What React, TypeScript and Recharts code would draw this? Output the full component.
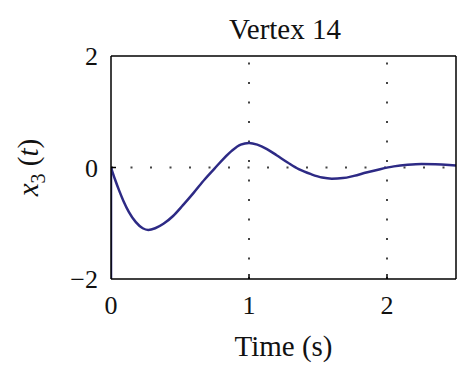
import { LineChart, Line, XAxis, YAxis, ReferenceLine } from "recharts";

const timeTicks = [0, 1, 2];
const valueTicks = [-2, 0, 2];

// initial jump at t = 0
const jump = [
  { t: 0, x3: -2 },
  { t: 0, x3: 0 },
];

const times = [
  0, 0.03, 0.06, 0.09, 0.13, 0.18, 0.23, 0.27, 0.32, 0.38, 0.45, 0.52, 0.6, 0.68, 0.75, 0.82, 0.88,
  0.94, 1.0, 1.06, 1.13, 1.2, 1.28, 1.36, 1.45, 1.53, 1.6, 1.68, 1.76, 1.85, 1.95, 2.05, 2.15, 2.25,
  2.35, 2.45, 2.5,
];
const values = [
  0, -0.22, -0.42, -0.6, -0.8, -0.98, -1.09, -1.12, -1.09, -1.01, -0.87, -0.68, -0.45, -0.21, -0.02,
  0.17, 0.31, 0.41, 0.44, 0.41, 0.33, 0.22, 0.09, -0.03, -0.12, -0.18, -0.2, -0.19, -0.15, -0.09,
  -0.03, 0.02, 0.05, 0.065, 0.06, 0.045, 0.035,
];

const curve = times.map((t, i) => ({ t, x3: values[i] }));

const FONT = "'Liberation Serif', 'DejaVu Serif', serif";
const LINE = "#2d2a85";

function fmt(v: number): string {
  return v < 0 ? `\u2212${Math.abs(v)}` : `${v}`;
}

function BottomTick(props: any) {
  const { x, y, payload } = props;
  const inner = payload.value !== 0;
  return (
    <g>
      {inner && <line x1={x} y1={y} x2={x} y2={y - 5} stroke="#000" strokeWidth={1.5} />}
      <text x={x} y={y + 35} textAnchor="middle" fontFamily={FONT} fontSize={26} fill="#111">
        {fmt(payload.value)}
      </text>
    </g>
  );
}

function TopTick(props: any) {
  const { x, y, payload } = props;
  if (payload.value === 0) return <g />;
  return <line x1={x} y1={y} x2={x} y2={y + 5} stroke="#000" strokeWidth={1.5} />;
}

function LeftTick(props: any) {
  const { x, y, payload } = props;
  const inner = payload.value === 0;
  return (
    <g>
      {inner && <line x1={x} y1={y} x2={x + 5} y2={y} stroke="#000" strokeWidth={1.5} />}
      <text x={x - 13} y={y + 9} textAnchor="end" fontFamily={FONT} fontSize={26} fill="#111">
        {fmt(payload.value)}
      </text>
    </g>
  );
}

function RightTick(props: any) {
  const { x, y, payload } = props;
  if (payload.value !== 0) return <g />;
  return <line x1={x} y1={y} x2={x - 5} y2={y} stroke="#000" strokeWidth={1.5} />;
}

function YLabel(props: any) {
  const vb = props.viewBox || {};
  const cx = (vb.x ?? 0) + 38;
  const cy = (vb.y ?? 0) + (vb.height ?? 0) / 2;
  return (
    <text
      x={cx}
      y={cy}
      transform={`rotate(-90 ${cx} ${cy})`}
      textAnchor="middle"
      fontFamily={FONT}
      fontSize={29}
      fill="#111"
    >
      <tspan fontStyle="italic">x</tspan>
      <tspan fontSize={20} dy={7}>3</tspan>
      <tspan dy={-7}> (</tspan>
      <tspan fontStyle="italic">t</tspan>
      <tspan>)</tspan>
    </text>
  );
}

export default function App() {
  return (
    <div style={{ position: "absolute", left: 0, top: 0, width: 474, height: 376, background: "#fff" }}>
      <div
        style={{
          position: "absolute",
          left: 0,
          width: 474,
          top: 12,
          paddingLeft: 96,
          boxSizing: "border-box",
          textAlign: "center",
          fontFamily: FONT,
          fontSize: 29,
          color: "#111",
          lineHeight: "34px",
        }}
      >
        Vertex 14
      </div>
      <LineChart width={474} height={376} margin={{ top: 55, right: 17, bottom: 0, left: 0 }}>
        <XAxis
          xAxisId="b"
          dataKey="t"
          type="number"
          domain={[0, 2.5]}
          ticks={timeTicks}
          allowDataOverflow
          height={97}
          tickSize={0}
          tickMargin={0}
          tickLine={false}
          axisLine={{ stroke: "#000", strokeWidth: 1.5 }}
          tick={<BottomTick />}
          label={{
            value: "Time (s)",
            position: "insideBottom",
            offset: 20,
            fontFamily: FONT,
            fontSize: 29,
            fill: "#111",
          }}
        />
        <XAxis
          xAxisId="t"
          orientation="top"
          dataKey="t"
          type="number"
          domain={[0, 2.5]}
          ticks={timeTicks}
          height={1}
          tickSize={0}
          tickMargin={0}
          tickLine={false}
          axisLine={{ stroke: "#000", strokeWidth: 1.5 }}
          tick={<TopTick />}
        />
        <YAxis
          yAxisId="l"
          dataKey="x3"
          type="number"
          domain={[-2, 2]}
          ticks={valueTicks}
          allowDataOverflow
          width={111}
          tickSize={0}
          tickMargin={0}
          tickLine={false}
          axisLine={{ stroke: "#000", strokeWidth: 1.5 }}
          tick={<LeftTick />}
          label={{ content: <YLabel /> }}
        />
        <YAxis
          yAxisId="r"
          orientation="right"
          dataKey="x3"
          type="number"
          domain={[-2, 2]}
          ticks={valueTicks}
          width={1}
          tickSize={0}
          tickMargin={0}
          tickLine={false}
          axisLine={{ stroke: "#000", strokeWidth: 1.5 }}
          tick={<RightTick />}
        />
        <ReferenceLine xAxisId="b" yAxisId="l" y={0} stroke="#444" strokeWidth={2} strokeDasharray="2 17.5" />
        <ReferenceLine xAxisId="b" yAxisId="l" x={1} stroke="#444" strokeWidth={2} strokeDasharray="2 17.5" />
        <ReferenceLine xAxisId="b" yAxisId="l" x={2} stroke="#444" strokeWidth={2} strokeDasharray="2 17.5" />
        <Line
          xAxisId="b"
          yAxisId="l"
          data={jump}
          dataKey="x3"
          type="linear"
          stroke={LINE}
          strokeWidth={2.5}
          dot={false}
          isAnimationActive={false}
        />
        <Line
          xAxisId="b"
          yAxisId="l"
          data={curve}
          dataKey="x3"
          type="monotone"
          stroke={LINE}
          strokeWidth={2.5}
          dot={false}
          isAnimationActive={false}
        />
      </LineChart>
    </div>
  );
}
